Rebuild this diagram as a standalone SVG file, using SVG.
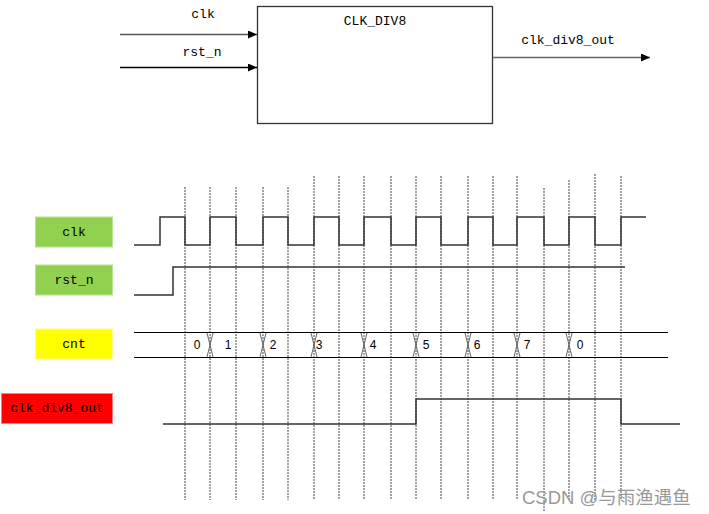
<svg xmlns="http://www.w3.org/2000/svg" width="709" height="514" viewBox="0 0 709 514">
<defs>
<marker id="arr" markerWidth="10" markerHeight="8" refX="9" refY="4" orient="auto" markerUnits="userSpaceOnUse">
<path d="M0,0 L9,4 L0,8 Z" fill="#000"/>
</marker>
<style>
.t{font-family:"Liberation Mono","DejaVu Sans Mono",monospace;font-size:13px;fill:#000;text-anchor:middle;dominant-baseline:central}
.d{font-family:"Liberation Sans",Arial,sans-serif;font-size:12px;fill:#000;text-anchor:middle;dominant-baseline:central}
.grid line{stroke:#444;stroke-width:1;stroke-dasharray:2 1}
.wave{fill:none;stroke:#333;stroke-width:1.5}
.bus{stroke:#000;stroke-width:1;fill:none}
.x{stroke:#666;stroke-width:1;fill:none}
</style>
</defs>
<rect width="709" height="514" fill="#fff"/>

<g id="clk_div8_block">
<rect x="257.5" y="6.5" width="235" height="117" fill="#fff" stroke="#333" stroke-width="1.3"/>
<text class="t" x="375" y="21">CLK_DIV8</text>
</g>
<g id="connectors">
<line x1="120" y1="34.5" x2="257" y2="34.5" stroke="#555" stroke-width="1.3" marker-end="url(#arr)"/>
<line x1="120" y1="67.5" x2="257" y2="67.5" stroke="#000" stroke-width="1.3" marker-end="url(#arr)"/>
<line x1="493" y1="57.5" x2="650" y2="57.5" stroke="#666" stroke-width="1.5" marker-end="url(#arr)"/>
</g>
<g id="port_labels">
<text class="t" x="203" y="14">clk</text>
<text class="t" x="202" y="52">rst_n</text>
<text class="t" x="568" y="40">clk_div8_out</text>
</g>

<g id="grid" class="grid">
<line x1="185" y1="187" x2="185" y2="500"/>
<line x1="210" y1="187" x2="210" y2="500"/>
<line x1="236" y1="187" x2="236" y2="500"/>
<line x1="263" y1="187" x2="263" y2="500"/>
<line x1="288" y1="187" x2="288" y2="500"/>
<line x1="314" y1="176" x2="314" y2="500"/>
<line x1="339" y1="176" x2="339" y2="500"/>
<line x1="364" y1="176" x2="364" y2="500"/>
<line x1="391" y1="176" x2="391" y2="500"/>
<line x1="416" y1="176" x2="416" y2="500"/>
<line x1="441" y1="176" x2="441" y2="500"/>
<line x1="468" y1="176" x2="468" y2="500"/>
<line x1="493" y1="176" x2="493" y2="500"/>
<line x1="517" y1="176" x2="517" y2="500"/>
<line x1="544" y1="188" x2="544" y2="512"/>
<line x1="569" y1="180" x2="569" y2="500"/>
<line x1="595" y1="174" x2="595" y2="500"/>
<line x1="621" y1="176" x2="621" y2="500"/>
</g>

<g id="label_clk">
<rect x="35.5" y="217" width="77" height="30" fill="#92D050" stroke="#b9e290"/>
<text class="t" x="74" y="232">clk</text>
</g>
<g id="label_rst_n">
<rect x="35.5" y="265" width="77" height="30" fill="#92D050" stroke="#b9e290"/>
<text class="t" x="74" y="280">rst_n</text>
</g>
<g id="label_cnt">
<rect x="35.5" y="329" width="77" height="30" fill="#FFFF00" stroke="#ffff90"/>
<text class="t" x="74" y="344">cnt</text>
</g>
<g id="label_clk_div8_out">
<rect x="1.5" y="393.5" width="111" height="30" fill="#FF0000" stroke="#ff8080"/>
<text class="t" x="57" y="408.5">clk_div8_out</text>
</g>

<g id="wave_clk">
<path class="wave" d="M134,245 H160 V217 H185 V245 H210 V217 H236 V245 H263 V217 H288 V245 H314 V217 H339 V245 H364 V217 H391 V245 H416 V217 H441 V245 H468 V217 H493 V245 H517 V217 H544 V245 H569 V217 H595 V245 H621 V217 H646"/>
</g>
<g id="wave_rst_n">
<path class="wave" d="M134,295 H173 V267 H625"/>
</g>
<g id="wave_cnt">
<line class="bus" x1="134" y1="332.5" x2="668" y2="332.5"/>
<line class="bus" x1="134" y1="357.5" x2="668" y2="357.5"/>
<path class="x" d="M207,333 L213,357 M213,333 L207,357 M260,333 L266,357 M266,333 L260,357 M311,333 L317,357 M317,333 L311,357 M361,333 L367,357 M367,333 L361,357 M413,333 L419,357 M419,333 L413,357 M465,333 L471,357 M471,333 L465,357 M514,333 L520,357 M520,333 L514,357 M566,333 L572,357 M572,333 L566,357"/>
<text class="d" x="197" y="345">0</text>
<text class="d" x="228" y="345">1</text>
<text class="d" x="273" y="345">2</text>
<text class="d" x="319" y="345">3</text>
<text class="d" x="373" y="345">4</text>
<text class="d" x="426" y="345">5</text>
<text class="d" x="477" y="345">6</text>
<text class="d" x="527" y="345">7</text>
<text class="d" x="580" y="345">0</text>
</g>
<g id="wave_clk_div8_out">
<path class="wave" d="M163,424 H416 V399 H621 V424 H680"/>
</g>

<text x="522" y="497" font-family="'Liberation Sans','Noto Sans CJK SC',sans-serif" font-size="18.5" fill="#999" dominant-baseline="central">CSDN @与雨渔遇鱼</text>
</svg>
